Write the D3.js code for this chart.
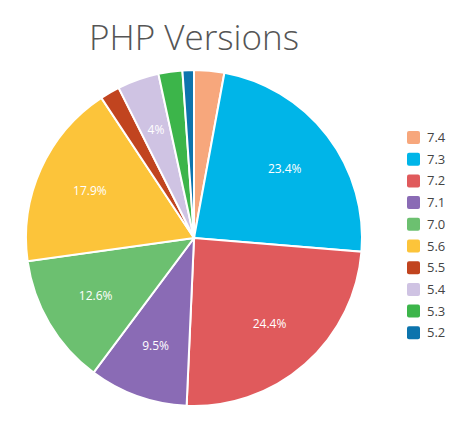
<!DOCTYPE html>
<html>
<head>
<meta charset="utf-8">
<title>PHP Versions</title>
<script src="https://d3js.org/d3.v7.min.js"></script>
<style>
  body { margin: 0; background: #fff; }
</style>
</head>
<body>
<script>
var versions = ["7.4", "7.3", "7.2", "7.1", "7.0", "5.6", "5.5", "5.4", "5.3", "5.2"]
var shares = [2.9, 23.4, 24.4, 9.5, 12.6, 17.9, 1.9, 4.0, 2.3, 1.1]
var labels = ["", "23.4%", "24.4%", "9.5%", "12.6%", "17.9%", "", "4%", "", ""]
var colors = ["#f7a77c", "#00b5e8", "#e05a5c", "#8a6bb5", "#6cc070", "#fcc43a", "#c1441f", "#cfc3e3", "#3cb54a", "#0c74ad"]

var w = 474, h = 425
var svg = d3.select("body").append("svg").attr("width", w).attr("height", h)

svg.append("text")
    .attr("x", 194).attr("y", 50)
    .attr("text-anchor", "middle")
    .attr("font-family", "Open Sans, sans-serif")
    .attr("font-weight", 300)
    .attr("font-size", 35)
    .attr("fill", "#555")
    .text("PHP Versions")

var data = versions.map(function(v, i) { return {v: v, s: shares[i], l: labels[i], c: colors[i]} })
var pie = d3.pie().sort(null).value(function(d) { return d.s })
var r = 168
var arc = d3.arc().innerRadius(0).outerRadius(r)
var labelArc = d3.arc().innerRadius(r * 0.68).outerRadius(r * 0.68)

var g = svg.append("g").attr("transform", "translate(194,238)")
var arcs = g.selectAll("g").data(pie(data)).enter().append("g")
arcs.append("path")
    .attr("d", arc)
    .attr("fill", function(d) { return d.data.c })
    .attr("stroke", "#fff")
    .attr("stroke-width", 2)
arcs.append("text")
    .attr("transform", function(d) { return "translate(" + labelArc.centroid(d) + ")" })
    .attr("text-anchor", "middle")
    .attr("dy", "0.35em")
    .attr("font-family", "Open Sans, sans-serif")
    .attr("font-size", 12)
    .attr("fill", "#fff")
    .text(function(d) { return d.data.l })

var legend = svg.selectAll(".leg").data(data).enter().append("g")
    .attr("transform", function(d, i) { return "translate(407," + (131 + i * 21.7) + ")" })
legend.append("rect").attr("width", 13).attr("height", 13).attr("rx", 2)
    .attr("fill", function(d) { return d.c })
legend.append("text").attr("x", 20).attr("y", 11)
    .attr("font-family", "Open Sans, sans-serif")
    .attr("font-size", 13)
    .attr("fill", "#444")
    .text(function(d) { return d.v })
</script>
</body>
</html>
